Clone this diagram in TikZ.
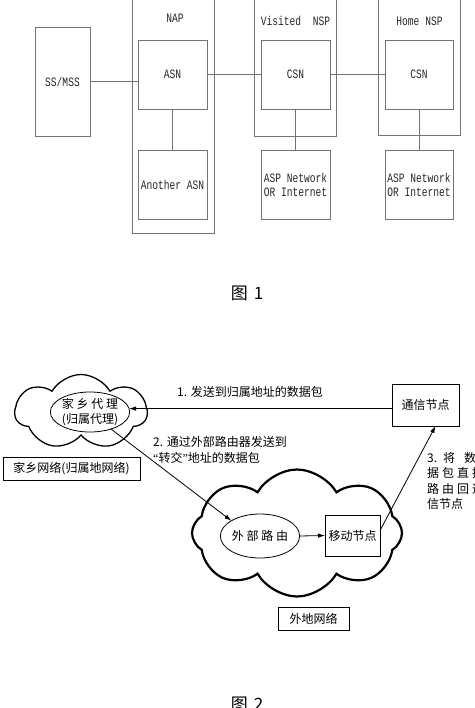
\documentclass[tikz,border=0pt]{standalone}
\usepackage{fontspec}
\newfontfamily\monof{Liberation Mono}[FakeStretch=0.75]
\newfontfamily\cjk{Noto Sans CJK SC}
\newfontfamily\latq{Liberation Serif}
\usetikzlibrary{shapes.geometric,shapes.symbols,arrows.meta,calc}
\tikzset{
  fbox/.style={draw=black!55, line width=0.7pt, inner sep=0pt, outer sep=0pt, align=center,
    font=\monof\fontsize{12.8}{14}\selectfont, text=black!85},
  flbl/.style={inner sep=0pt, font=\monof\fontsize{12.8}{14}\selectfont, text=black!85},
  fline/.style={draw=black!55, line width=0.7pt},
  cbox/.style={draw, line width=0.8pt, inner sep=0pt, outer sep=0pt, align=center,
    font=\cjk\fontsize{12}{15}\selectfont},
  cell/.style={draw, ellipse, line width=0.8pt, inner sep=0pt, outer sep=0pt, align=center,
    font=\cjk\fontsize{12}{15}\selectfont},
  ctxt/.style={inner sep=0pt, align=left, font=\cjk\fontsize{12}{15.5}\selectfont},
  arr/.style={line width=0.8pt, -{Latex[length=7pt,width=4.5pt]}},
  capt/.style={inner sep=0pt, font=\cjk\fontsize{17}{20}\selectfont}
}
\begin{document}
\begin{tikzpicture}[x=1pt,y=-1pt]
\useasboundingbox (0,0) rectangle (474,708);
% ---------- Figure 1 ----------
\node[fbox, minimum width=55, minimum height=109] (ss) at (62.5,81.5) {SS/MSS};
\node[fbox, minimum width=82, minimum height=243] (nap) at (173,111.5) {};
\node[flbl] (napl) at (175,18) {NAP};
\node[fbox, minimum width=69, minimum height=69] (asn) at (172.5,74.5) {ASN};
\node[fbox, minimum width=69, minimum height=69] (another) at (172.5,184.5) {Another~ASN};
\node[fbox, minimum width=82, minimum height=146] (vnsp) at (295,63) {};
\node[flbl] (vnspl) at (295.5,21) {Visited~~NSP};
\node[fbox, minimum width=69, minimum height=69] (csna) at (295.5,74.5) {CSN};
\node[fbox, minimum width=69, minimum height=69] (aspa) at (295.5,184.5) {ASP~Network\\OR~Internet};
\node[fbox, minimum width=82, minimum height=146, line width=1pt] (hnsp) at (419,63) {};
\node[flbl] (hnspl) at (419.5,21) {Home~NSP};
\node[fbox, minimum width=68, minimum height=69] (csnb) at (419,74.5) {CSN};
\node[fbox, minimum width=68, minimum height=69] (aspb) at (419,184.5) {ASP~Network\\OR~Internet};
\draw[fline] (ss.east) -- (ss.east -| asn.west);
\draw[fline] (asn) -- (csna);
\draw[fline] (csna) -- (csnb);
\draw[fline] (asn.south) -- (another.north);
\draw[fline] (csna.south) -- (aspa.north);
\draw[fline] (csnb.south) -- (aspb.north);
\node[capt] (cap1) at (247,293) {图\hspace{6pt}1};
% ---------- Figure 2 ----------
\node[cloud, cloud puffs=7, cloud puff arc=120, cloud ignores aspect, draw, line width=1.3pt,
  minimum width=132, minimum height=75, inner sep=0pt] (hcloud) at (81,412) {};
\node[cell, minimum width=76, minimum height=40] (hagent) at (90,412) {家 乡 代 理\\(归属代理)};
\node[cbox, minimum width=137, minimum height=23] (hnet) at (71.5,468.5) {家乡网络(归属地网络)};
\node[cbox, minimum width=67, minimum height=42] (comm) at (425.5,405) {通信节点};
\node[cloud, cloud puffs=8, cloud puff arc=120, cloud ignores aspect, draw, line width=2.2pt,
  minimum width=210, minimum height=127, inner sep=0pt] (fcloud) at (297,533) {};
\node[cell, minimum width=74, minimum height=44] (frouter) at (260,536) {外 部 路 由};
\node[cbox, minimum width=55, minimum height=41] (mobile) at (352.5,535.5) {移动节点};
\node[cbox, minimum width=71, minimum height=23] (fnet) at (313.5,618.5) {外地网络};
\draw[arr] (hagent.5 -| comm.west) -- (hagent.5);
\node[ctxt] (l1) at (250,392) {1. 发送到归属地址的数据包};
\draw[arr] (hagent.-39) -- (frouter.152);
\node[ctxt, anchor=west] (l2) at (153,450) {2. 通过外部路由器发送到\\{\latq “}转交{\latq ”}地址的数据包};
\draw[arr] (frouter.east) -- (mobile.west);
\coordinate (ctip) at ($(comm.south)!0.3!(comm.south east)$);
\draw[arr] ($(mobile.east)+(0,-5)$) -- (ctip);
\node[ctxt, anchor=north west] (l3) at (427,452)
  {3.\hspace{6pt}将\hspace{9pt}数\\据\hspace{3pt}包\hspace{3pt}直\hspace{3pt}接\\路\hspace{3pt}由\hspace{3pt}回\hspace{3pt}通\\信节点};
\node[capt] (cap2) at (247,704) {图\hspace{6pt}2};
\end{tikzpicture}
\end{document}
